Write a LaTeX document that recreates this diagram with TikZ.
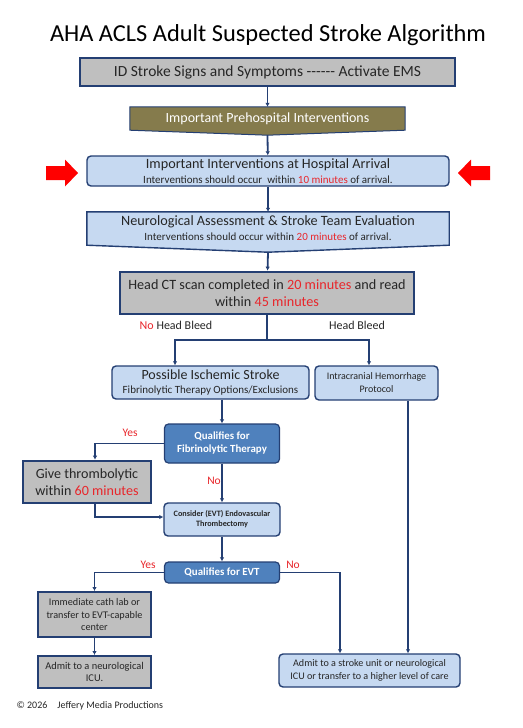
\documentclass[tikz,border=0pt]{standalone}
\usepackage{fontspec}
\setmainfont{Carlito}
\usetikzlibrary{arrows.meta}
\definecolor{edge}{HTML}{243F73}
\definecolor{grayfill}{HTML}{BFBFBF}
\definecolor{olive}{HTML}{857B4C}
\definecolor{lightblue}{HTML}{C6D9F1}
\definecolor{midblue}{HTML}{4F81BD}
\definecolor{redtext}{HTML}{E8262B}
\newcommand{\red}[1]{\textcolor{redtext}{#1}}
\newcommand{\fs}[1]{\fontsize{#1}{#1}\selectfont}
\begin{document}
\begin{tikzpicture}[x=1pt,y=-1pt,
	graybox/.style={draw=edge,line width=2.6pt,fill=grayfill,text=black!85,align=center,inner sep=0pt},
	roundbox/.style={draw=edge,line width=1.4pt,fill=lightblue,rounded corners=4pt,text=black!85,align=center,inner sep=0pt},
	qualbox/.style={draw=edge,line width=1.2pt,fill=midblue,rounded corners=4pt,text=white,align=center,inner sep=0pt,font=\bfseries\fontsize{10.9}{13}\selectfont},
	conn/.style={draw=edge,line width=1.8pt,-{Latex[length=4pt,width=4.5pt]}},
	plain/.style={draw=edge,line width=1.8pt},
	lbl/.style={font=\fontsize{12}{14}\selectfont,text=black!85},
	yesno/.style={font=\fontsize{11.5}{14}\selectfont,text=redtext}]
	\useasboundingbox (0,0) rectangle (522,728);
	\node (title) at (268,35) {\fontsize{24.4}{28}\selectfont AHA ACLS Adult Suspected Stroke Algorithm};
	\node[graybox,minimum width=375pt,minimum height=28pt,font=\fontsize{15.5}{17}\selectfont] (ems) at (267.5,72) {ID Stroke Signs and Symptoms -{}-{}-{}-{}-{}- Activate EMS};
	\node[minimum width=275pt,minimum height=23pt,inner sep=0pt] (prehosp) at (267.5,118.5) {};
	\fill[olive,draw=edge,line width=1pt] (prehosp.north west) -- (prehosp.north east) -- (prehosp.south east) -- ([yshift=-5pt]prehosp.south) -- (prehosp.south west) -- cycle;
	\node[text=white,font=\fontsize{14}{16}\selectfont] at (prehosp) {Important Prehospital Interventions};
	\node[roundbox,minimum width=362pt,minimum height=30pt] (arrival) at (268,171) {{\fs{14.2}Important Interventions at Hospital Arrival}\\[3pt]{\fs{11}Interventions should occur\ \ within \red{10 minutes} of arrival.}};
	\coordinate (lefttip) at (78,173);
	\coordinate (righttip) at (458,173);
	\fill[red] (lefttip) -- ++(-13,-13.5) -- ++(0,6.5) -- ++(-19,0) -- ++(0,14) -- ++(19,0) -- ++(0,6.5) -- cycle;
	\fill[red] (righttip) -- ++(13,-13.5) -- ++(0,6.5) -- ++(19,0) -- ++(0,14) -- ++(-19,0) -- ++(0,6.5) -- cycle;
	\node[minimum width=362pt,minimum height=33pt,inner sep=0pt] (neuro) at (268,228.5) {};
	\fill[lightblue,draw=edge,line width=1.4pt] (neuro.north west) -- (neuro.north east) -- (neuro.south east) -- ([yshift=-7pt]neuro.south) -- (neuro.south west) -- cycle;
	\node[align=center,text=black!85,inner sep=0pt] at (neuro) {{\fs{14.2}Neurological Assessment \& Stroke Team Evaluation}\\[3pt]{\fs{11}Interventions should occur within \red{20 minutes} of arrival.}};
	\node[graybox,minimum width=294pt,minimum height=42pt,font=\fontsize{14.2}{16.5}\selectfont] (ct) at (267,293) {Head CT scan completed in \red{20 minutes} and read\\within \red{45 minutes}};
	\node[lbl] (nobleed) at (176,325) {\red{No} Head Bleed};
	\node[lbl] (bleed) at (357,325) {Head Bleed};
	\coordinate (fork) at (267,340);
	\node[roundbox,minimum width=197pt,minimum height=33pt] (ischemic) at (210.5,382.5) {{\fs{14}Possible Ischemic Stroke}\\[2.5pt]{\fs{11}Fibrinolytic Therapy Options/Exclusions}};
	\node[roundbox,minimum width=123pt,minimum height=34pt,font=\fontsize{10}{13}\selectfont] (ich) at (376.5,383) {Intracranial Hemorrhage\\Protocol};
	\node[qualbox,minimum width=115pt,minimum height=39pt] (qualfib) at (222,443.5) {Qualifies for\\Fibrinolytic Therapy};
	\node[graybox,minimum width=128pt,minimum height=42pt,font=\fontsize{14.1}{17}\selectfont] (thrombo) at (87,482) {Give thrombolytic\\within \red{60 minutes}};
	\node[roundbox,minimum width=116pt,minimum height=33pt,font=\bfseries\fontsize{8.2}{10}\selectfont] (consider) at (222,519.5) {Consider (EVT) Endovascular\\Thrombectomy};
	\node[qualbox,minimum width=115pt,minimum height=21pt] (qualevt) at (222,572.5) {Qualifies for EVT};
	\node[graybox,minimum width=113pt,minimum height=45pt,line width=2pt,font=\fontsize{10.2}{12.2}\selectfont] (cath) at (94.5,614.5) {Immediate cath lab or\\transfer to EVT-capable\\center};
	\node[graybox,minimum width=113pt,minimum height=32pt,line width=2pt,font=\fontsize{10.4}{12.5}\selectfont] (admitneuro) at (94.5,672) {Admit to a neurological\\ICU.};
	\node[roundbox,minimum width=181pt,minimum height=33pt,font=\fontsize{10.1}{12.5}\selectfont] (admitstroke) at (369.5,670.5) {Admit to a stroke unit or neurological\\ICU or transfer to a higher level of care};
	\node[yesno] (yesfib) at (130,433) {Yes};
	\node[yesno] (nofib) at (214,481) {No};
	\node[yesno] (yesevt) at (148,565) {Yes};
	\node[yesno] (noevt) at (293,565) {No};
	\node[anchor=west,font=\fontsize{10}{12}\selectfont,text=black!85] (footer) at (13,706) {© 2026\quad Jeffery Media Productions};
	\draw[conn] (ems) -- (prehosp);
	\draw[conn] ([yshift=-5pt]prehosp.south) -- (arrival);
	\draw[conn] (arrival) -- (neuro);
	\draw[conn] ([yshift=-7pt]neuro.south) -- (ct);
	\draw[plain] (ct) -- (fork);
	\draw[conn] (fork) -| ([xshift=-35.5pt]ischemic.north);
	\draw[conn] (fork) -| ([xshift=-7.5pt]ich.north);
	\draw[conn] (qualfib.north |- ischemic.south) -- (qualfib);
	\draw[conn] (qualfib.west) -| ([xshift=8pt]thrombo.north);
	\draw[conn] (qualfib) -- (consider);
	\draw[conn] ([xshift=8pt]thrombo.south) |- ([yshift=2.5pt]consider.west);
	\draw[conn] (consider) -- (qualevt);
	\draw[conn] (qualevt.west) -| (cath.north);
	\draw[conn] (cath) -- (admitneuro);
	\draw[conn] (qualevt.east) -| ([xshift=-29.5pt]admitstroke.north);
	\draw[conn] ([xshift=31.5pt]ich.south) -- ([xshift=31.5pt]ich.south |- admitstroke.north);
\end{tikzpicture}
\end{document}
